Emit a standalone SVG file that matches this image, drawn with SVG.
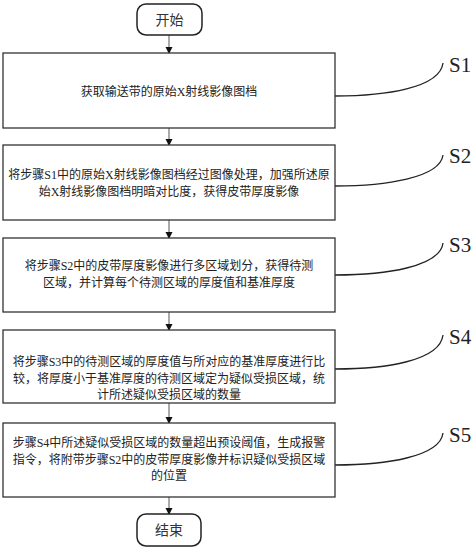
<svg xmlns="http://www.w3.org/2000/svg" width="474" height="551" viewBox="0 0 474 551">
<style>
.box{fill:#fff;stroke:#333;stroke-width:1.3}
.term{fill:#fff;stroke:#222;stroke-width:1.5}
.t{font-family:"Liberation Serif","Noto Sans CJK SC",serif;font-size:12px;fill:#222;text-anchor:middle}
.tt{font-family:"Noto Sans CJK SC",sans-serif;font-size:14px;fill:#333;text-anchor:middle}
.lbl{font-family:"Liberation Serif",serif;font-size:21px;fill:#222}
.arr{stroke:#555;stroke-width:1;fill:none;marker-end:url(#ah)}
.lead{stroke:#222;stroke-width:1.3;fill:none}
</style>
<defs>
<marker id="ah" markerWidth="8" markerHeight="8" refX="6" refY="3.5" orient="auto" markerUnits="userSpaceOnUse">
<path d="M0,0 L7,3.5 L0,7 Z" fill="#111"/>
</marker>
</defs>
<rect width="474" height="551" fill="#fff"/>
<g id="connectors">
<line class="arr" x1="169" y1="35" x2="169" y2="53"/>
<line class="arr" x1="169" y1="128" x2="169" y2="145"/>
<line class="arr" x1="169" y1="220" x2="169" y2="238"/>
<line class="arr" x1="169" y1="312" x2="169" y2="330"/>
<line class="arr" x1="169" y1="403" x2="169" y2="423"/>
<line class="arr" x1="169" y1="497" x2="169" y2="514"/>
<path class="lead" d="M335,96 C385,96 440,88 443,63"/>
<path class="lead" d="M335,186 C385,186 440,178 443,155"/>
<path class="lead" d="M335,275 C385,275 440,267 443,243"/>
<path class="lead" d="M335,369 C385,369 440,361 443,335"/>
<path class="lead" d="M335,465 C385,465 440,457 443,433"/>
</g>
<g id="start">
<rect class="term" x="137" y="4" width="65" height="31" rx="9"/>
<text class="tt" x="169.5" y="25">开始</text>
</g>
<g id="s1">
<rect class="box" x="3" y="53" width="332" height="75"/>
<text class="t" x="169" y="96">获取输送带的原始X射线影像图档</text>
<text class="lbl" x="449" y="72">S1</text>
</g>
<g id="s2">
<rect class="box" x="3" y="145" width="332" height="75"/>
<text class="t" x="169" y="179">将步骤S1中的原始X射线影像图档经过图像处理，加强所述原</text>
<text class="t" x="169" y="196">始X射线影像图档明暗对比度，获得皮带厚度影像</text>
<text class="lbl" x="449" y="163">S2</text>
</g>
<g id="s3">
<rect class="box" x="3" y="238" width="332" height="74"/>
<text class="t" x="169" y="270">将步骤S2中的皮带厚度影像进行多区域划分，获得待测</text>
<text class="t" x="169" y="287">区域，并计算每个待测区域的厚度值和基准厚度</text>
<text class="lbl" x="449" y="252">S3</text>
</g>
<g id="s4">
<rect class="box" x="3" y="330" width="332" height="73"/>
<text class="t" x="169" y="366">将步骤S3中的待测区域的厚度值与所对应的基准厚度进行比</text>
<text class="t" x="169" y="383">较，将厚度小于基准厚度的待测区域定为疑似受损区域，统</text>
<text class="t" x="169" y="399">计所述疑似受损区域的数量</text>
<text class="lbl" x="449" y="344">S4</text>
</g>
<g id="s5">
<rect class="box" x="3" y="423" width="332" height="74"/>
<text class="t" x="169" y="447">步骤S4中所述疑似受损区域的数量超出预设阈值，生成报警</text>
<text class="t" x="169" y="464">指令，将附带步骤S2中的皮带厚度影像并标识疑似受损区域</text>
<text class="t" x="169" y="480">的位置</text>
<text class="lbl" x="449" y="442">S5</text>
</g>
<g id="end">
<rect class="term" x="137" y="514" width="64" height="32" rx="9"/>
<text class="tt" x="169" y="535">结束</text>
</g>
</svg>
